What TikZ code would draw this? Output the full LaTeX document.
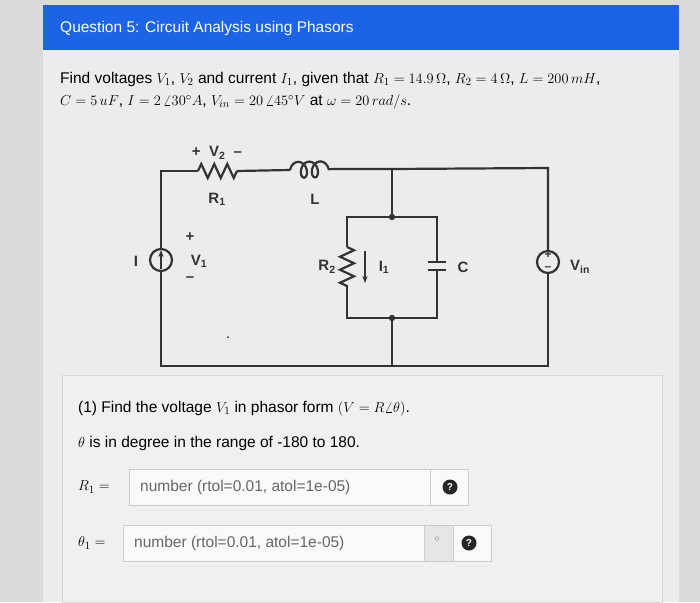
\documentclass[tikz,border=0pt]{standalone}
\usepackage{fontspec}
\setmainfont{Liberation Sans}
\usetikzlibrary{decorations.pathmorphing,arrows.meta}
\definecolor{bg}{HTML}{DADADA}
\definecolor{panel}{HTML}{ECECEC}
\definecolor{inner}{HTML}{F0F0F0}
\definecolor{hdr}{HTML}{1C63E6}
\definecolor{wire}{HTML}{333333}
\tikzset{
  w/.style={draw=wire,line width=2.2pt},
  lbl/.style={font=\fontsize{15}{17}\selectfont\bfseries,text=wire},
  txt/.style={font=\fontsize{15.5}{18}\selectfont,anchor=west,inner sep=0},
  inbox/.style={draw=gray!40,fill=white!60!inner,line width=0.5pt},
  help/.style={circle,fill=black!85,inner sep=0,minimum size=15pt,text=white,font=\fontsize{10}{10}\selectfont\bfseries},
}
\begin{document}
\begin{tikzpicture}[x=1pt,y=-1pt]
\useasboundingbox (0,0) rectangle (700,602);
\fill[bg] (0,0) rectangle (700,602);
\fill[panel] (43,5) rectangle (679,602);
\fill[hdr] (43,5) rectangle (679,50);
\node[txt,text=white] (title) at (60,28) {Question 5: Circuit Analysis using Phasors};
\node[txt] (l1) at (60,79) {Find voltages $V_1$, $V_2$ and current $I_1$, given that $R_1=14.9\,\Omega$, $R_2=4\,\Omega$, $L=200\,mH$,};
\node[txt] (l2) at (60,102) {$C=5\,uF$, $I=2\,\angle 30^\circ A$, $V_{in}=20\,\angle 45^\circ V$ at $\omega=20\,rad/s$.};
% circuit
\coordinate (tl) at (161,171); \coordinate (bl) at (161,366);
\coordinate (tr) at (548,168); \coordinate (br) at (548,366);
\coordinate (r1a) at (198,171); \coordinate (r1b) at (237,171);
\coordinate (la) at (290,170); \coordinate (lb) at (336,169);
\coordinate (nt) at (392,169); \coordinate (n1) at (392,217); \coordinate (n2) at (392,318);
\coordinate (bm) at (392,366);
\node[w,circle,minimum size=22pt,inner sep=0] (isrc) at (161,260) {};
\node[w,circle,minimum size=22pt,inner sep=0] (vsrc) at (548,262) {};
\draw[w] (isrc.south) -- (bl) -- (bm) -- (br) -- (vsrc.south);
\draw[w] (isrc.north) -- (tl) -- (r1a);
\draw[w,decorate,decoration={zigzag,segment length=13pt,amplitude=7pt}] (r1a) -- (r1b);
\draw[w] (r1b) -- (la);
\draw[w,decorate,decoration={coil,aspect=0.7,segment length=11pt,amplitude=8pt}] (la) -- (lb);
\draw[w] (lb) -- (nt) -- (tr) -- (vsrc.north);
\draw[w] (nt) -- (n1) -- (347,217) -- (347,247);
\draw[w,decorate,decoration={zigzag,segment length=13pt,amplitude=7pt}] (347,247) -- (347,287);
\draw[w] (347,287) -- (347,318) -- (437,318) -- (437,270);
\draw[w] (n1) -- (437,217) -- (437,262);
\draw[w] (428,262) -- (446,262); \draw[w] (428,270) -- (446,270);
\draw[w] (n2) -- (bm);
\fill[wire] (n1) circle (3.2pt) (n2) circle (3.2pt);
\draw[wire,line width=2.2pt,-{Stealth[length=7pt]}] (161,269) -- (161,250);
\node[font=\fontsize{12}{12}\selectfont\bfseries,text=wire] (pl) at (548,255) {+};
\node[font=\fontsize{12}{12}\selectfont\bfseries,text=wire] (mi) at (548,269) {--};
\draw[wire,line width=2pt,-{Stealth[length=7pt]}] (365,251) -- (365,283);
\node[lbl] (iL) at (136,261) {I};
\node[lbl] (v1p) at (190,237) {+};
\node[lbl] (v1) at (199,261) {V\textsubscript{1}};
\node[lbl] (v1m) at (190,279) {--};
\node[lbl] (v2) at (217,153) {+\; V\textsubscript{2} \;--};
\node[lbl] (r1l) at (217,199) {R\textsubscript{1}};
\node[lbl] (ll) at (315,199) {L};
\node[lbl] (r2l) at (327,267) {R\textsubscript{2}};
\node[lbl] (i1l) at (384,267) {I\textsubscript{1}};
\node[lbl] (cl) at (463,267) {C};
\node[lbl] (vinl) at (580,267) {V\textsubscript{in}};
\fill[wire] (228,337) circle (1pt);
% lower panel
\draw[gray!30,fill=inner] (62,375) rectangle (662,602);
\node[txt] (q1) at (78,409) {(1) Find the voltage $V_1$ in phasor form $(V=R\angle\theta)$.};
\node[txt] (q2) at (78,443) {$\theta$ is in degree in the range of -180 to 180.};
\node[txt] (r1eq) at (78,487) {$R_1=$};
\draw[inbox] (129,469) rectangle (468,505);
\draw[gray!40] (430,469) -- (430,505);
\node[txt,text=gray!80!black] (ph1) at (140,487) {number (rtol=0.01, atol=1e-05)};
\node[help] (h1) at (450,487) {?};
\node[txt] (theq) at (78,543) {$\theta_1=$};
\draw[inbox] (123,525) rectangle (491,561);
\fill[gray!20] (424,525.5) rectangle (453,560.5);
\draw[gray!40] (424,525) -- (424,561) (453,525) -- (453,561);
\node[txt,text=gray!80!black] (ph2) at (134,543) {number (rtol=0.01, atol=1e-05)};
\node[font=\fontsize{10}{10}\selectfont,text=gray] (deg) at (437,539) {$\circ$};
\node[help] (h2) at (469,543) {?};
\end{tikzpicture}
\end{document}
